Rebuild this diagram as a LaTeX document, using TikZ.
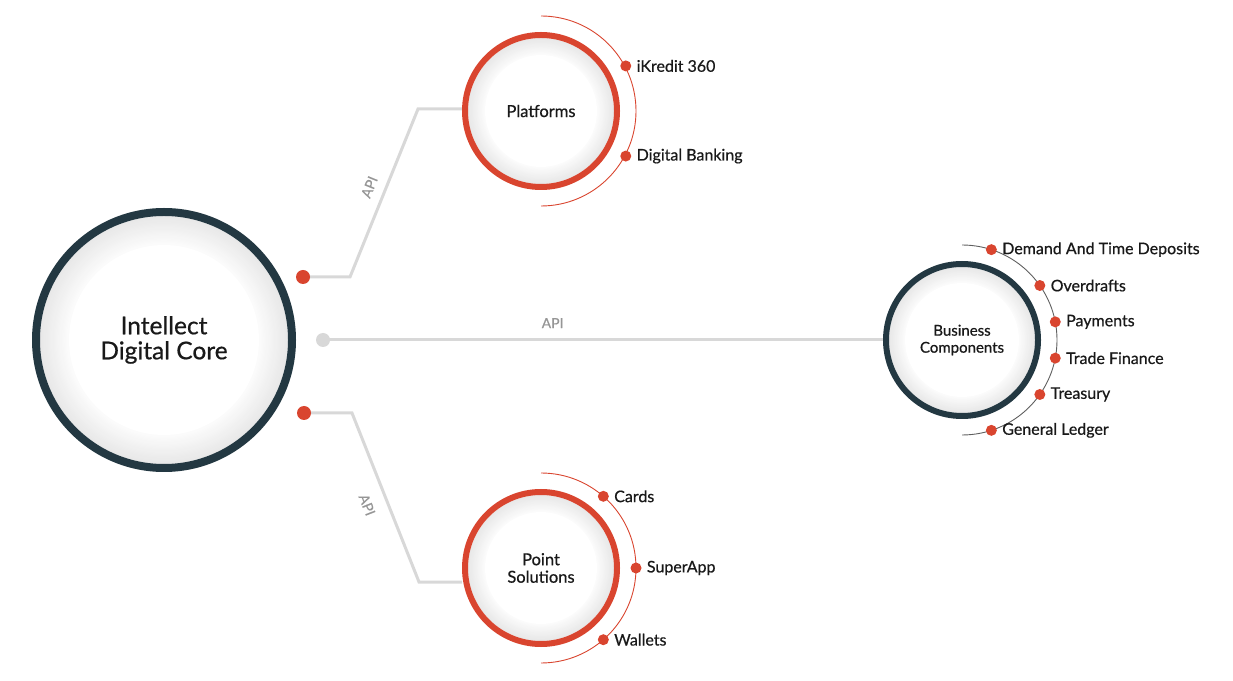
\documentclass[tikz,border=0pt]{standalone}
\usepackage{fontspec}
\setmainfont{Lato}[UprightFeatures={FakeBold=0.6}]
\usetikzlibrary{calc,positioning}
\definecolor{myred}{RGB}{217,69,47}
\definecolor{darkc}{RGB}{35,56,66}
\definecolor{linegray}{RGB}{216,216,216}
\definecolor{apigray}{RGB}{150,150,150}
\definecolor{arcgray}{RGB}{95,95,95}
\definecolor{txt}{RGB}{25,25,25}
\pgfdeclarelayer{back}
\pgfdeclarelayer{mid}
\pgfsetlayers{back,mid,main}
\newcommand\myband[3]{%
  \foreach \k in {0,...,24}{%
    \pgfmathsetmacro\rr{#3-(#3-#2)*\k/24}%
    \pgfmathsetmacro\cc{9-0.33*\k}%
    \fill[black!\cc] #1 circle (\rr);
  }%
  \fill[white] #1 circle (#2);
}
\tikzset{
  hub/.style={circle, align=center, text=txt, inner sep=0pt},
  bighub/.style={hub, draw=darkc, line width=8pt, minimum size=256pt, font=\fontsize{24.5}{25}\selectfont},
  redhub/.style={hub, draw=myred, line width=6pt, minimum size=152pt, font=\fontsize{16.5}{17.5}\selectfont},
  darkhub/.style={hub, draw=darkc, line width=6pt, minimum size=152pt, font=\fontsize{15}{17}\selectfont},
  bigdot/.style={circle, fill=myred, inner sep=0pt, minimum size=14pt},
  graydot/.style={circle, fill=linegray, inner sep=0pt, minimum size=14pt},
  sdot/.style={circle, fill=myred, inner sep=0pt, minimum size=11pt},
  item/.style={inner sep=0pt, right=5pt of #1, text=txt, font=\fontsize{16}{18}\selectfont},
  conn/.style={draw=linegray, line width=3pt},
  api/.style={text=apigray, font=\fontsize{14}{15}\selectfont},
  redarc/.style={draw=myred, line width=0.9pt},
  darkarc/.style={draw=arcgray, line width=0.9pt}
}
\begin{document}
\begin{tikzpicture}[x=1pt,y=1pt]
\useasboundingbox (0,0) rectangle (1233,680);
% hubs
\node[bighub] (core) at (164,340) {Intellect\\Digital Core};
\node[redhub] (plat) at (541,569) {Platforms};
\node[redhub] (pts) at (541,112) {Point\\Solutions};
\node[darkhub] (bus) at (962,340) {Business\\Components};
% gradient bands
\begin{pgfonlayer}{back}
  \myband{(core)}{95}{124}
  \myband{(plat)}{56}{73}
  \myband{(pts)}{56}{73}
  \myband{(bus)}{57}{73}
\end{pgfonlayer}
% connector dots
\node[bigdot] (tdot) at (303,403) {};
\node[graydot] (mdot) at (323,340) {};
\node[bigdot] (bdot) at (304,267) {};
\coordinate (tb1) at (350,403);
\coordinate (tb2) at (418,571);
\coordinate (bb1) at (352,267);
\coordinate (bb2) at (419,98);
\begin{pgfonlayer}{mid}
  \draw[conn] (tdot.center) -- (tb1) -- node[api, sloped, above=6pt, pos=0.5] {API} (tb2) -- (tb2 -| plat.west);
  \draw[conn] (mdot.center) -- node[api, above=7pt, pos=0.41] {API} (bus.west);
  \draw[conn] (bdot.center) -- (bb1) -- node[api, sloped, below=10pt, pos=0.5] {API} (bb2) -- (bb2 -| pts.west);
\end{pgfonlayer}
% arcs
\draw[redarc] ($(plat)+(90:95)$) arc[start angle=90, end angle=-90, radius=95];
\draw[redarc] ($(pts)+(90:95)$) arc[start angle=90, end angle=-90, radius=95];
\draw[darkarc] ($(bus)+(90:95)$) arc[start angle=90, end angle=-90, radius=95];
% platform items
\node[sdot] (p1) at ($(plat)+(28:96)$) {};
\node[item=p1] (p1t) {iKredit 360};
\node[sdot] (p2) at ($(plat)+(-28:96)$) {};
\node[item=p2] (p2t) {Digital Banking};
% point solution items
\node[sdot] (s1) at ($(pts)+(49:95)$) {};
\node[item=s1] (s1t) {Cards};
\node[sdot] (s2) at ($(pts)+(0:95)$) {};
\node[item=s2] (s2t) {SuperApp};
\node[sdot] (s3) at ($(pts)+(-49:95)$) {};
\node[item=s3] (s3t) {Wallets};
% business items
\node[sdot] (b1) at ($(bus)+(72:95)$) {};
\node[item=b1] (b1t) {Demand And Time Deposits};
\node[sdot] (b2) at ($(bus)+(35:95)$) {};
\node[item=b2] (b2t) {Overdrafts};
\node[sdot] (b3) at ($(bus)+(11:95)$) {};
\node[item=b3] (b3t) {Payments};
\node[sdot] (b4) at ($(bus)+(-11:95)$) {};
\node[item=b4] (b4t) {Trade Finance};
\node[sdot] (b5) at ($(bus)+(-35:95)$) {};
\node[item=b5] (b5t) {Treasury};
\node[sdot] (b6) at ($(bus)+(-72:95)$) {};
\node[item=b6] (b6t) {General Ledger};
\end{tikzpicture}
\end{document}
